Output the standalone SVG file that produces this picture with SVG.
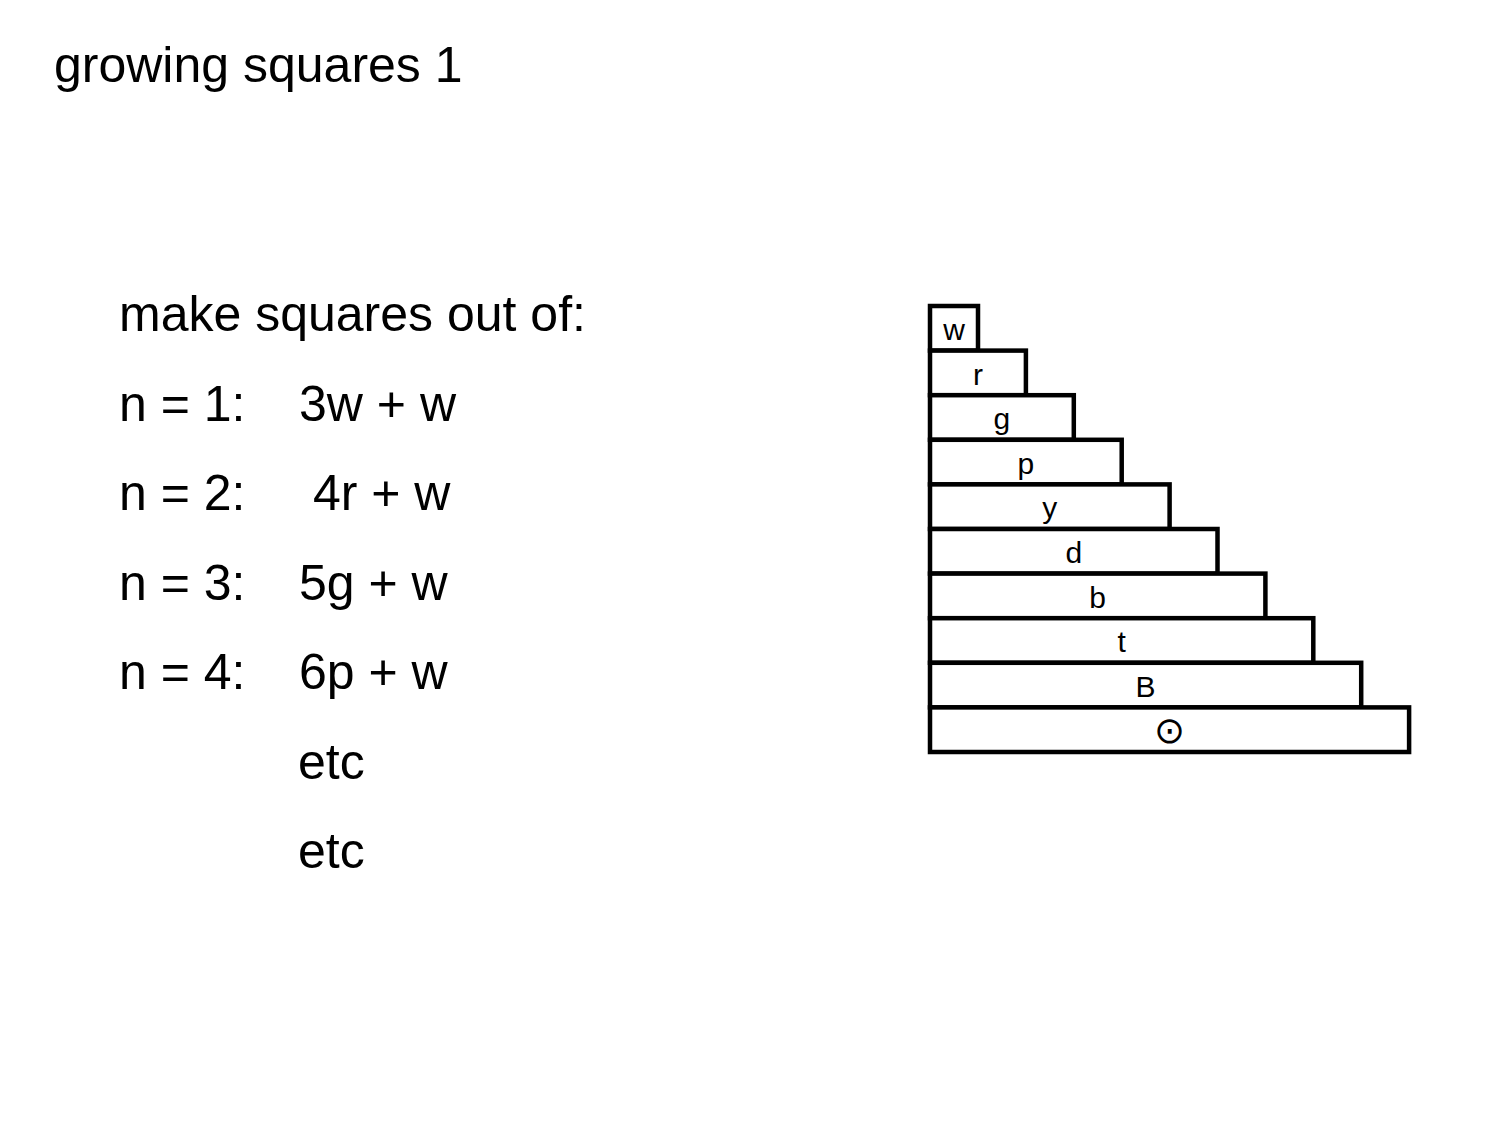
<svg xmlns="http://www.w3.org/2000/svg" width="1500" height="1125" viewBox="0 0 1500 1125">
<style>
.t{font-family:"Liberation Sans",Arial,sans-serif;font-size:50px;fill:#000}
.l{font-family:"Liberation Sans",Arial,"DejaVu Sans",sans-serif;font-size:30px;fill:#000;text-anchor:middle}
.r{fill:#fff;stroke:#000;stroke-width:4.5}
</style>
<rect width="1500" height="1125" fill="#fff"/>
<g id="title"><text class="t" x="54" y="82">growing squares 1</text></g>
<g id="text">
<text class="t" x="119" y="331">make squares out of:</text>
<text class="t" x="119" y="421">n = 1:<tspan x="299">3w + w</tspan></text>
<text class="t" x="119" y="510">n = 2:<tspan x="299"> 4r + w</tspan></text>
<text class="t" x="119" y="600">n = 3:<tspan x="299">5g + w</tspan></text>
<text class="t" x="119" y="689">n = 4:<tspan x="299">6p + w</tspan></text>
<text class="t" x="298" y="779">etc</text>
<text class="t" x="298" y="868">etc</text>
</g>
<g id="staircase">
<g id="row-w"><rect class="r" x="930" y="306" width="48" height="44.6"/><text class="l" x="954" y="340">w</text></g>
<g id="row-r"><rect class="r" x="930" y="350.6" width="95.9" height="44.6"/><text class="l" x="978" y="384.6">r</text></g>
<g id="row-g"><rect class="r" x="930" y="395.2" width="143.8" height="44.6"/><text class="l" x="1001.9" y="429.2">g</text></g>
<g id="row-p"><rect class="r" x="930" y="439.8" width="191.7" height="44.6"/><text class="l" x="1025.9" y="473.8">p</text></g>
<g id="row-y"><rect class="r" x="930" y="484.4" width="239.6" height="44.6"/><text class="l" x="1049.8" y="518.4">y</text></g>
<g id="row-d"><rect class="r" x="930" y="529" width="287.5" height="44.6"/><text class="l" x="1073.8" y="563">d</text></g>
<g id="row-b"><rect class="r" x="930" y="573.6" width="335.4" height="44.6"/><text class="l" x="1097.7" y="607.6">b</text></g>
<g id="row-t"><rect class="r" x="930" y="618.2" width="383.3" height="44.6"/><text class="l" x="1121.7" y="652.2">t</text></g>
<g id="row-B"><rect class="r" x="930" y="662.8" width="431.2" height="44.6"/><text class="l" x="1145.6" y="696.8">B</text></g>
<g id="row-O"><rect class="r" x="930" y="707.4" width="479.1" height="44.6"/><text class="l" x="1169.5" y="743" style="font-size:37px">⊙</text></g>
</g>
</svg>
